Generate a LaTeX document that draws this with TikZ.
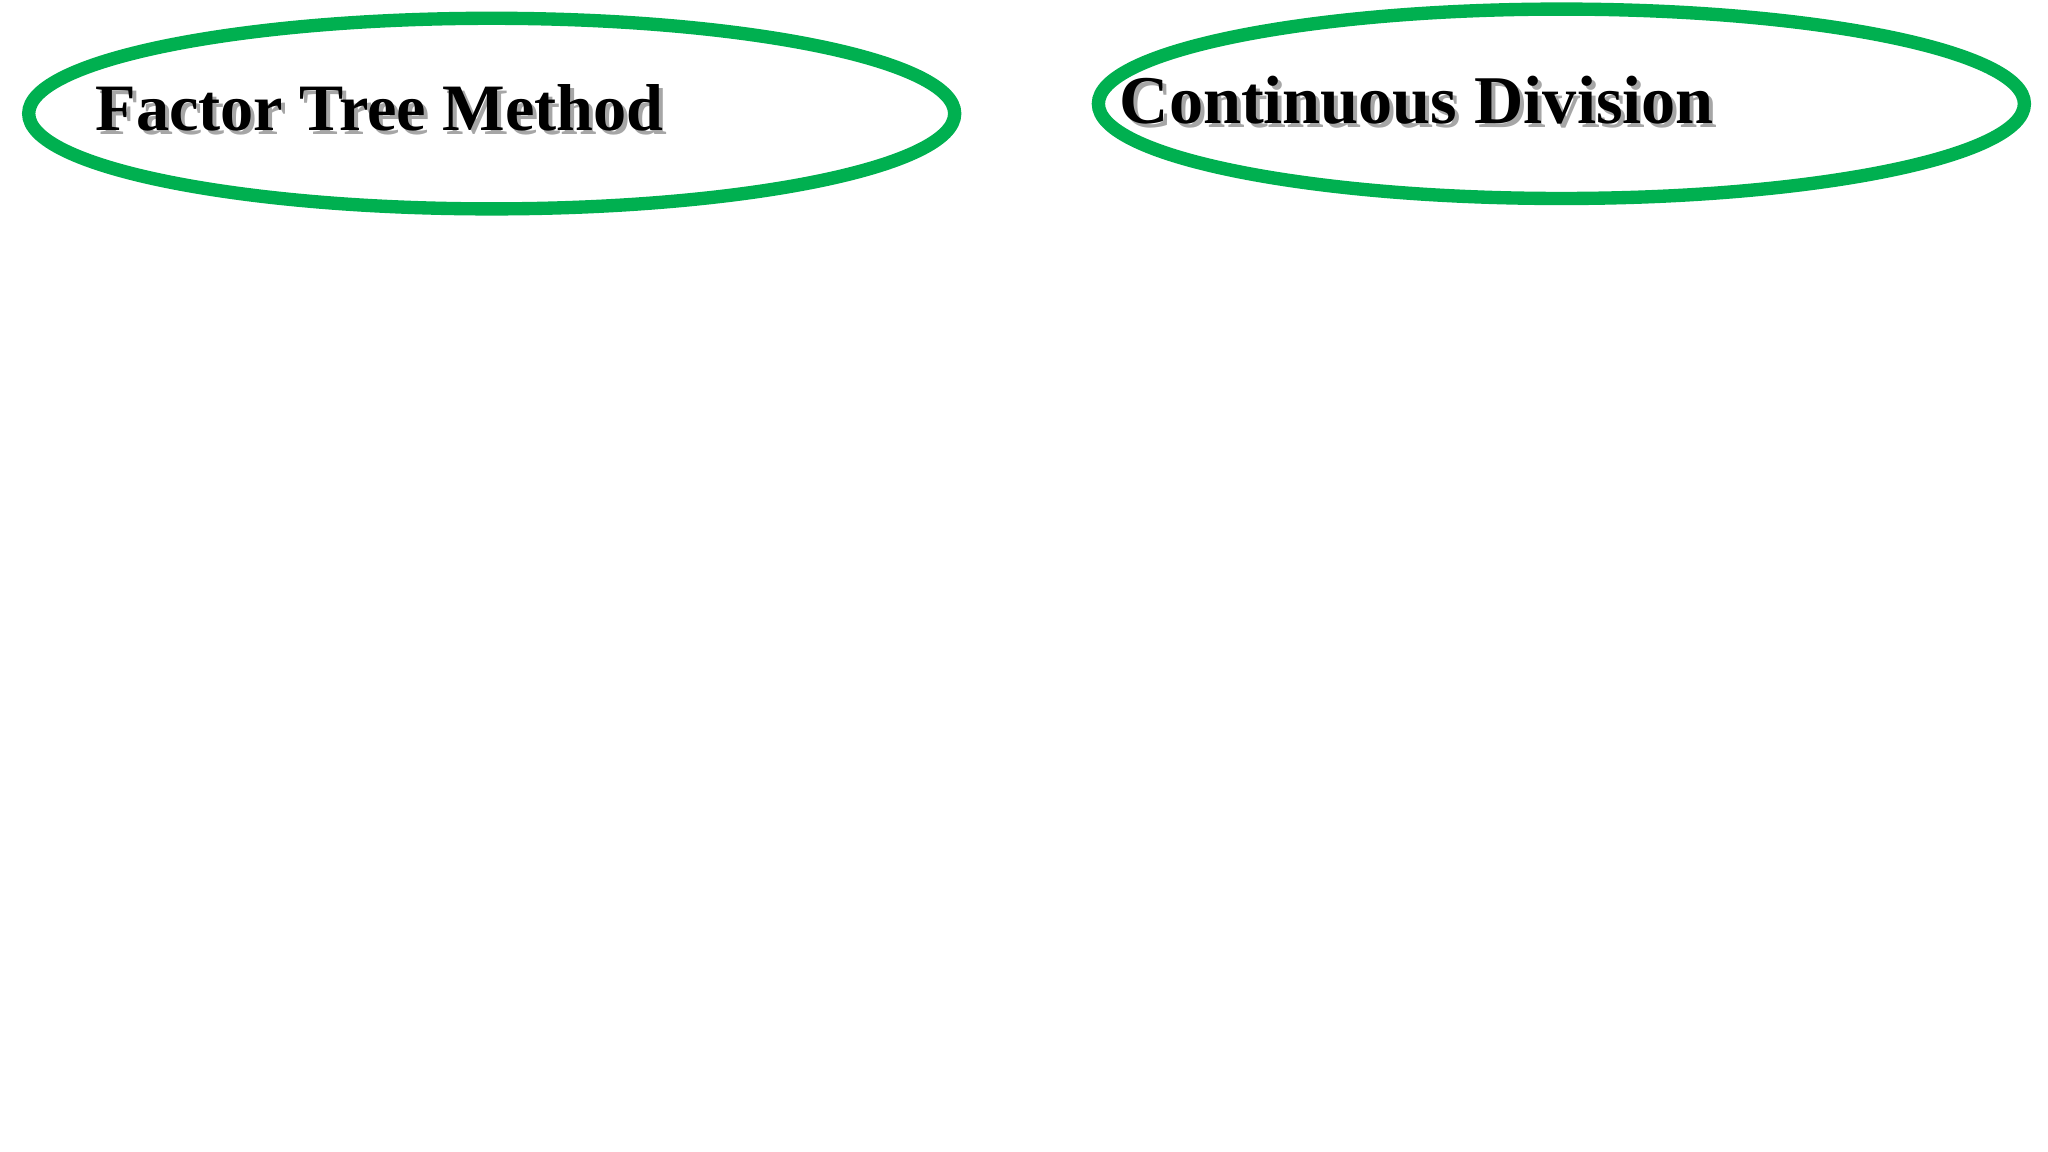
\documentclass[tikz,border=0pt]{standalone}
\usepackage{fontspec}
\setmainfont{Liberation Serif}
\definecolor{ogreen}{RGB}{0,176,80}
\tikzset{ring/.style={draw=ogreen,line width=3.8pt},
 ttl/.style={anchor=base west,inner sep=0pt,font=\bfseries\fontsize{30}{30}\selectfont},
 shd/.style={ttl,text=gray!70}}
\begin{document}
\begin{tikzpicture}
\useasboundingbox (0,0) rectangle (20.48,11.52);
\draw[ring] (4.917,10.384) ellipse [x radius=4.63,y radius=0.953];
\draw[ring] (15.614,10.482) ellipse [x radius=4.63,y radius=0.947];
\node[shd] at (0.99,10.17) {\resizebox{5.68cm}{!}{Factor Tree Method}};
\node[ttl] (t1) at (0.95,10.214) {\resizebox{5.68cm}{!}{Factor Tree Method}};
\node[shd] at (11.23,10.24) {\resizebox{5.94cm}{!}{Continuous Division}};
\node[ttl] (t2) at (11.19,10.28) {\resizebox{5.94cm}{!}{Continuous Division}};
\end{tikzpicture}
\end{document}
